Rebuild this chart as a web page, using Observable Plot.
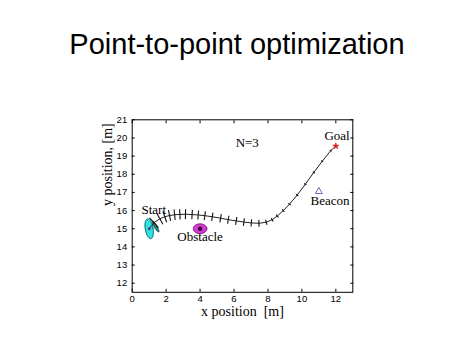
<!DOCTYPE html>
<html>
<head>
<meta charset="utf-8">
<script src="https://cdn.jsdelivr.net/npm/d3@7"></script>
<script src="https://cdn.jsdelivr.net/npm/@observablehq/plot@0.6"></script>
<style>
  html, body { margin: 0; padding: 0; background: #fff; }
  #title { height: 95px; box-sizing: border-box; padding-top: 30px; line-height: 29px;
    font-family: "Liberation Sans", Arial, sans-serif; font-size: 29px; text-align: center; color: #000; }
  #chart { width: 474px; }
</style>
</head>
<body>
<div id="title">Point-to-point optimization</div>
<div id="chart"></div>
<script>
// ---- data ----
const xTicks = [0, 2, 4, 6, 8, 10, 12];
const yTicks = [12, 13, 14, 15, 16, 17, 18, 19, 20, 21];
const xLabel = "x position  [m]";
const yLabel = "y position, [m]";

// planned trajectory (m) and its uncertainty half-width (m)
const pathX = [1.0, 1.28, 1.63, 1.92, 2.2, 2.5, 2.81, 3.14, 3.53, 3.89, 4.28, 4.72, 5.21, 5.66, 6.13, 6.58, 7.02, 7.47, 7.9, 8.25, 8.55, 8.9, 9.27, 9.72, 10.2, 10.7, 11.2, 11.7, 12.0];
const pathY = [15.0, 15.33, 15.55, 15.66, 15.73, 15.77, 15.79, 15.8, 15.78, 15.76, 15.72, 15.66, 15.58, 15.5, 15.43, 15.37, 15.32, 15.3, 15.36, 15.5, 15.7, 16.0, 16.35, 16.85, 17.45, 18.1, 18.72, 19.3, 19.55];
const sigma = [0, 0.36, 0.34, 0.32, 0.3, 0.29, 0.28, 0.27, 0.26, 0.25, 0.24, 0.23, 0.23, 0.22, 0.22, 0.21, 0.2, 0.19, 0.15, 0.11, 0.1, 0.09, 0.08, 0.08, 0.07, 0.07, 0.06, 0.06, 0];

// landmarks
const startPos = {x: 1.0, y: 15.0};
const goalPos = {x: 12.0, y: 19.55};
const obstaclePos = {x: 4.0, y: 15.0};
const beaconPos = {x: 11.0, y: 17.05};

// ellipses: center, semi-axes (m), tilt (deg)
const ellipseNames = ["start", "start2", "obstacle"];
const ellipseCX = [1.0, 1.38, 4.0];
const ellipseCY = [15.0, 15.12, 15.0];
const ellipseA = [0.23, 0.08, 0.4];
const ellipseB = [0.55, 0.34, 0.27];
const ellipseTilt = [10, 30, 0];

// annotations
const labelText = ["N=3", "Goal", "Beacon", "Start", "Obstacle"];
const labelX = [6.78, 12.07, 11.66, 1.27, 4.0];
const labelY = [19.71, 20.14, 16.56, 16.03, 14.54];

// ---- layout ----
const W = 474, H = 228;
const mL = 131.7, mR = 121.7, mT = 24.3, mB = 31.2;
const xDom = [0, 13], yDom = [11.5, 21];
const sx = (W - mL - mR) / (xDom[1] - xDom[0]);
const sy = (H - mT - mB) / (yDom[1] - yDom[0]);

const path = pathX.map((x, i) => ({x, y: pathY[i]}));

// uncertainty bars perpendicular to the path (in screen space)
const bars = [];
for (let i = 1; i < pathX.length - 1; i++) {
  const dx = (pathX[i + 1] - pathX[i - 1]) * sx;
  const dy = (pathY[i + 1] - pathY[i - 1]) * sy;
  const n = Math.hypot(dx, dy);
  const px = -dy / n, py = dx / n;
  const h = sigma[i] * sy;
  bars.push({
    x1: pathX[i] + px * h / sx, y1: pathY[i] + py * h / sy,
    x2: pathX[i] - px * h / sx, y2: pathY[i] - py * h / sy
  });
}

function ellipsePts(k) {
  const pts = [];
  const t = ellipseTilt[k] * Math.PI / 180;
  const a = ellipseA[k] * sx, b = ellipseB[k] * sy;
  for (let j = 0; j <= 72; j++) {
    const f = j / 72 * 2 * Math.PI;
    const u = a * Math.cos(f), v = b * Math.sin(f);
    const X = u * Math.cos(t) - v * Math.sin(t);
    const Y = u * Math.sin(t) + v * Math.cos(t);
    pts.push({x: ellipseCX[k] + X / sx, y: ellipseCY[k] + Y / sy, name: ellipseNames[k]});
  }
  return pts;
}
const ellStart = ellipsePts(0), ellStart2 = ellipsePts(1), ellObs = ellipsePts(2);

const labels = labelText.map((t, i) => ({t, x: labelX[i], y: labelY[i]}));

const sans = "Liberation Sans, Arial, Helvetica, sans-serif";
const serif = "Liberation Serif, Times New Roman, serif";

const chart = Plot.plot({
  width: W, height: H,
  marginLeft: mL, marginRight: mR, marginTop: mT, marginBottom: mB,
  style: {fontFamily: sans, fontSize: "9.5px", color: "#000", background: "#fff"},
  x: {domain: xDom, ticks: xTicks},
  y: {domain: yDom, ticks: yTicks},
  marks: [
    Plot.line(ellStart, {x: "x", y: "y", fill: "#2ce6e6", stroke: "#0a5a5a", strokeWidth: 1}),
    Plot.line(ellStart2, {x: "x", y: "y", fill: "#1d8a8a", stroke: "#0a4a4a", strokeWidth: 1}),
    Plot.line(ellObs, {x: "x", y: "y", fill: "#d23ad2", stroke: "#7a127a", strokeWidth: 1}),
    Plot.dot([obstaclePos], {x: "x", y: "y", r: 2.2, fill: "#3a003a"}),
    Plot.dot([startPos], {x: "x", y: "y", r: 1.5, fill: "#6a3aa0"}),
    Plot.line(path, {x: "x", y: "y", stroke: "#222", strokeWidth: 1}),
    Plot.link(bars, {x1: "x1", y1: "y1", x2: "x2", y2: "y2", stroke: "#111", strokeWidth: 1.1}),
    Plot.dot([goalPos], {x: "x", y: "y", symbol: "star", r: 2, fill: "#e02020", stroke: "#e02020", strokeWidth: 0.5}),
    Plot.dot([beaconPos], {x: "x", y: "y", symbol: "triangle", r: 2.6, fill: "none", stroke: "#5a5ab4", strokeWidth: 0.9}),
    Plot.text(labels, {x: "x", y: "y", text: "t", fontFamily: serif, fontSize: 13, fill: "#000"}),
    Plot.frame({stroke: "#000", strokeWidth: 1}),
    Plot.axisX({anchor: "bottom", ticks: xTicks, tickSize: -3, tickPadding: 6, label: null, fontSize: 9.5}),
    Plot.axisX({anchor: "top", ticks: xTicks, tickSize: -3, tickFormat: () => "", label: null}),
    Plot.axisY({anchor: "left", ticks: yTicks, tickSize: -3, tickPadding: 8, label: null, fontSize: 9.5}),
    Plot.axisY({anchor: "right", ticks: yTicks, tickSize: -3, tickFormat: () => "", label: null}),
    Plot.text([xLabel], {frameAnchor: "bottom", text: d => d, dy: 19.5, lineAnchor: "middle", fontFamily: serif, fontSize: 14, fill: "#000"}),
    Plot.text([yLabel], {frameAnchor: "left", text: d => d, dx: -24.2, rotate: -90, lineAnchor: "middle", fontFamily: serif, fontSize: 14, fill: "#000"})
  ]
});
document.getElementById("chart").appendChild(chart);
</script>
</body>
</html>
